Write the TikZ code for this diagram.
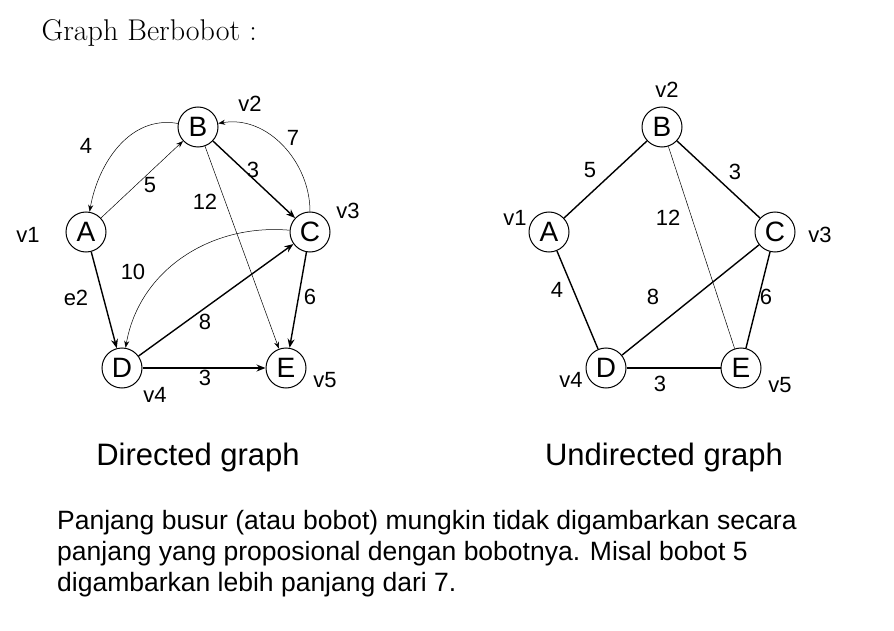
\documentclass[tikz,border=0pt]{standalone}
\usepackage{fontspec}
\setsansfont{Liberation Sans}
\usetikzlibrary{arrows.meta}
\begin{document}
\begin{tikzpicture}[x=1pt,y=-1pt,
  vert/.style={circle,draw,line width=1pt,minimum size=40pt,inner sep=0pt,font=\sffamily\fontsize{28}{28}\selectfont,fill=white},
  lab/.style={font=\sffamily\fontsize{22}{22}\selectfont},
  thick1/.style={line width=1.4pt},
  thin1/.style={line width=0.5pt},
  arr/.style={-{Stealth[length=9pt,width=7pt]}},
  arrs/.style={-{Stealth[length=7pt,width=5pt]}}]
\useasboundingbox (0,0) rectangle (894,631);
\node[anchor=west,font=\fontsize{30}{30}\selectfont] (title) at (38,33) {Graph Berbobot :};
% left graph
\node[vert] (A) at (86,232) {A};
\node[vert] (B) at (198,127) {B};
\node[vert] (C) at (310,232) {C};
\node[vert] (D) at (122,368) {D};
\node[vert] (E) at (286,368) {E};
\draw[thin1,arrs] (B) to[out=170,in=80] (A);
\draw[thin1,arrs] (A) -- (B);
\draw[thick1,arr] (B) -- (C);
\draw[thin1,arrs] (C) to[out=90,in=10] (B);
\draw[thin1,arrs] (B) -- (E);
\draw[thick1,arr] (A) -- (D);
\draw[thin1,arrs] (C) to[out=175,in=80] (D);
\draw[thick1,arr] (D) -- (C);
\draw[thick1,arr] (C) -- (E);
\draw[thick1,arr] (D) -- (E);
\node[lab] (l4) at (86,146) {4};
\node[lab] (l5) at (150,185) {5};
\node[lab] (l3a) at (253,170) {3};
\node[lab] (l7) at (293,138) {7};
\node[lab] (l12) at (205,202) {12};
\node[lab] (le2) at (76,298) {e2};
\node[lab] (l10) at (133,272) {10};
\node[lab] (l8) at (205,322) {8};
\node[lab] (l6) at (310,297) {6};
\node[lab] (l3b) at (205,378) {3};
\node[lab] (v1) at (28,235) {v1};
\node[lab] (v2) at (250,104) {v2};
\node[lab] (v3) at (348,211) {v3};
\node[lab] (v4) at (155,395) {v4};
\node[lab] (v5) at (325,380) {v5};
% right graph
\node[vert] (A2) at (549,232) {A};
\node[vert] (B2) at (662,127) {B};
\node[vert] (C2) at (775,232) {C};
\node[vert] (D2) at (606,368) {D};
\node[vert] (E2) at (741,368) {E};
\draw[thick1] (A2) -- (B2);
\draw[thick1] (B2) -- (C2);
\draw[thin1] (B2) -- (E2);
\draw[thick1] (A2) -- (D2);
\draw[thick1] (C2) -- (D2);
\draw[thick1] (C2) -- (E2);
\draw[thick1] (D2) -- (E2);
\node[lab] (r5) at (590,170) {5};
\node[lab] (r3) at (735,172) {3};
\node[lab] (r12) at (668,218) {12};
\node[lab] (r4) at (557,290) {4};
\node[lab] (r8) at (653,297) {8};
\node[lab] (r6) at (766,297) {6};
\node[lab] (r3b) at (660,384) {3};
\node[lab] (w1) at (515,218) {v1};
\node[lab] (w2) at (667,90) {v2};
\node[lab] (w3) at (820,235) {v3};
\node[lab] (w4) at (571,380) {v4};
\node[lab] (w5) at (780,385) {v5};
\node[font=\sffamily\fontsize{31}{31}\selectfont] (cap1) at (198,457) {Directed graph};
\node[font=\sffamily\fontsize{31}{31}\selectfont] (cap2) at (664,457) {Undirected graph};
\node[anchor=north west,align=left,font=\sffamily\fontsize{26.5}{31}\selectfont,inner sep=0pt] (para) at (57,510) {Panjang busur (atau bobot) mungkin tidak digambarkan secara\\panjang yang proposional dengan bobotnya. Misal bobot 5\\digambarkan lebih panjang dari 7.};
\end{tikzpicture}
\end{document}
